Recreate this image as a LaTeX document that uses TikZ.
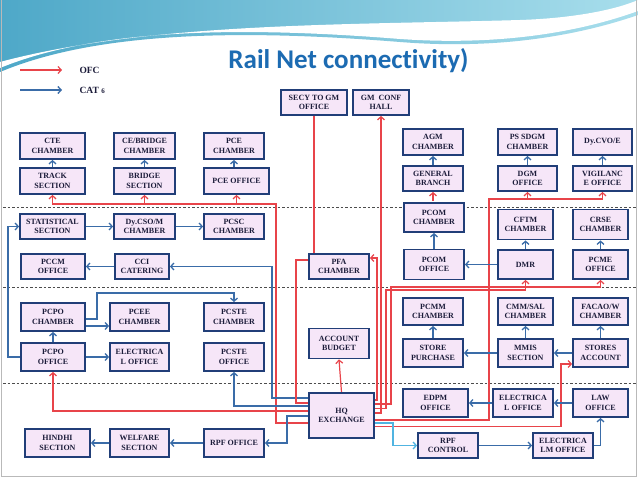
\documentclass[tikz,border=0pt]{standalone}
\usepackage{fontspec}
\setmainfont{Liberation Serif}
\newfontfamily\titlefont[Ligatures=NoCommon]{Carlito}
\usetikzlibrary{arrows.meta,calc}
\definecolor{boxc}{RGB}{33,62,120}
\definecolor{boxf}{RGB}{246,230,248}
\definecolor{txtc}{RGB}{28,28,58}
\definecolor{catc}{RGB}{58,108,168}
\definecolor{ofcc}{RGB}{232,68,74}
\definecolor{cyc}{RGB}{80,180,225}
\definecolor{titc}{RGB}{28,107,178}
\definecolor{tealA}{RGB}{78,168,200}
\definecolor{tealB}{RGB}{168,222,236}
\pgfdeclarelayer{bg}
\pgfsetlayers{bg,main}
\newcommand{\mybox}[6]{\node[box,minimum width=#4pt,minimum height=#5pt] (#1) at (#2,#3) {#6};}
\tikzset{
 box/.style={draw=boxc, fill=boxf, line width=1.8pt, inner sep=1pt, align=center, text=txtc, font=\bfseries\fontsize{8}{9.4}\selectfont},
 tipx/.style={-{Straight Barb[length=3.2pt,width=7pt]}},
 cat/.style={draw=catc, line width=1.3pt, tipx},
 ofc/.style={draw=ofcc, line width=1.2pt, tipx},
 ofcn/.style={draw=ofcc, line width=1.2pt},
 cyanl/.style={draw=cyc, line width=1.3pt, tipx},
 sepline/.style={draw=black!70, line width=0.6pt, dash pattern=on 2.5pt off 2pt},
 legtext/.style={font=\bfseries\fontsize{9.5}{11}\selectfont, text=txtc, anchor=west},
}
\begin{document}
\begin{tikzpicture}[x=1pt,y=-1pt]
\useasboundingbox (0,0) rectangle (638,478);
% ---------- nodes ----------
\node[font=\titlefont\bfseries\fontsize{27}{30}\selectfont, text=titc, anchor=base] (title) at (348.5,69) {Rail Net connectivity)};
\node[legtext] (lofc) at (76,70) {OFC};
\node[legtext] (lcat) at (76,90) {CAT {\fontsize{7}{8}\selectfont 6}};
\coordinate (lo) at (20,70);
\coordinate (lc) at (20,90);

\mybox{secy}{314}{102.5}{66}{25}{SECY TO GM\\OFFICE}
\mybox{gmconf}{381}{102.5}{56}{25}{GM\ \ CONF\\HALL}
\mybox{cte}{52.5}{146}{65}{26}{CTE\\CHAMBER}
\mybox{cebridge}{144.5}{146}{61}{26}{CE/BRIDGE\\CHAMBER}
\mybox{pce}{234}{146}{60}{26}{PCE\\CHAMBER}
\mybox{track}{52.5}{181}{65}{26}{TRACK\\SECTION}
\mybox{bridge}{144.5}{181}{61}{26}{BRIDGE\\SECTION}
\mybox{pceoff}{236.5}{181}{65}{26}{PCE OFFICE}
\mybox{stat}{52.5}{226.5}{65}{25}{STATISTICAL\\SECTION}
\mybox{dycso}{144.5}{226.5}{61}{25}{Dy.CSO/M\\CHAMBER}
\mybox{pcsc}{234}{226.5}{60}{25}{PCSC\\CHAMBER}
\mybox{pccm}{53}{266.5}{64}{25}{PCCM\\OFFICE}
\mybox{cci}{142}{266.5}{54}{25}{CCI\\CATERING}
\mybox{pcpoch}{53}{317}{64}{28}{PCPO\\CHAMBER}
\mybox{pcee}{139.5}{317}{59}{28}{PCEE\\CHAMBER}
\mybox{pcstech}{234}{317}{60}{28}{PCSTE\\CHAMBER}
\mybox{pcpooff}{53}{357}{64}{28}{PCPO\\OFFICE}
\mybox{elecoff}{139.5}{357}{59}{28}{ELECTRICA\\L OFFICE}
\mybox{pcsteoff}{234}{357}{60}{28}{PCSTE\\OFFICE}
\mybox{hindhi}{57.5}{443}{65}{28}{HINDHI\\SECTION}
\mybox{welfare}{139.5}{443}{59}{28}{WELFARE\\SECTION}
\mybox{rpfoff}{234}{443}{60}{28}{RPF OFFICE}
\mybox{pfa}{339}{266.5}{60}{25}{PFA\\CHAMBER}
\mybox{accb}{339}{343.5}{60}{30}{ACCOUNT\\BUDGET}
\mybox{hq}{341.5}{415.5}{65}{45}{HQ\\EXCHANGE}
\mybox{agm}{433}{142}{60}{26}{AGM\\CHAMBER}
\mybox{pssdgm}{527.5}{142}{59}{26}{PS SDGM\\CHAMBER}
\mybox{dycvo}{602.5}{142}{59}{26}{Dy.CVO/E}
\mybox{genbr}{433}{178.5}{60}{25}{GENERAL\\BRANCH}
\mybox{dgm}{527.5}{178.5}{59}{25}{DGM\\OFFICE}
\mybox{vig}{602.5}{178.5}{59}{25}{VIGILANC\\E OFFICE}
\mybox{pcomch}{434}{217.5}{60}{29}{PCOM\\CHAMBER}
\mybox{cftm}{525.5}{224.5}{55}{30}{CFTM\\CHAMBER}
\mybox{crse}{600.5}{224.5}{55}{30}{CRSE\\CHAMBER}
\mybox{pcomoff}{434}{264.5}{60}{30}{PCOM\\OFFICE}
\mybox{dmr}{525.5}{264.5}{55}{29}{DMR}
\mybox{pcme}{600.5}{264.5}{55}{29}{PCME\\OFFICE}
\mybox{pcmm}{433}{311.5}{60}{27}{PCMM\\CHAMBER}
\mybox{cmmsal}{525.5}{311.5}{55}{27}{CMM/SAL\\CHAMBER}
\mybox{facao}{600.5}{311.5}{55}{27}{FACAO/W\\CHAMBER}
\mybox{storep}{433}{353}{60}{28}{STORE\\PURCHASE}
\mybox{mmis}{525.5}{353}{55}{28}{MMIS\\SECTION}
\mybox{storesa}{600.5}{353}{55}{28}{STORES\\ACCOUNT}
\mybox{edpm}{435.5}{403}{65}{28}{EDPM\\OFFICE}
\mybox{elecl}{523}{403}{60}{28}{ELECTRICA\\L OFFICE}
\mybox{law}{600.5}{403}{55}{28}{LAW\\OFFICE}
\mybox{rpfc}{448}{445.5}{60}{25}{RPF\\CONTROL}
\mybox{eleclm}{563}{445.5}{60}{25}{ELECTRICA\\LM OFFICE}

\begin{pgfonlayer}{bg}
% ---------- background ----------
\fill[white] (0,0) rectangle (638,478);
\shade[left color=tealA, right color=tealB] (0,0) -- (638,0) -- (638,15)
  .. controls (580,35) and (500,50) .. (400,42)
  .. controls (250,30) and (100,30) .. (0,72) -- cycle;
\fill[white] (0,62) .. controls (150,22) and (350,25) .. (520,20)
  .. controls (580,18) and (620,8) .. (638,0) -- (638,11)
  .. controls (580,32) and (500,46) .. (400,39)
  .. controls (250,27) and (100,27) .. (0,68) -- cycle;
\draw[gray!55, line width=1pt] (1.5,0) -- (1.5,476.5) -- (636.5,476.5) -- (636.5,0);
% ---------- separators ----------
\draw[sepline] (3,207) -- (636,207);
\draw[sepline] (3,287) -- (636,287);
\draw[sepline] (3,383) -- (636,383);
% ---------- legend ----------
\draw[ofc] (lo) -- ($(lofc.west)+(-14,0)$);
\draw[cat] (lc) -- ($(lcat.west)+(-14,0)$);
% ---------- left group ----------
\draw[cat] (track.north) -- (cte.south);
\draw[cat] (bridge.north) -- (cebridge.south);
\draw[cat] (pce.south |- pceoff.north) -- (pce.south);
\coordinate (rA) at (276,204);
\draw[ofc] ($(hq.west)+(0,7.5)$) -| (rA) -| (track.south);
\draw[ofc] (rA -| bridge.south) -- (bridge.south);
\draw[ofc] (rA -| pceoff.south) -- (pceoff.south);
\draw[cat] (pcpooff.west) -- ++(-12,0) |- (stat.west);
\draw[cat] (stat.east) -- (dycso.west);
\draw[cat] (dycso.east) -- (pcsc.west);
\draw[cat] (cci.west) -- (pccm.east);
\coordinate (bC) at (272,266.5);
\draw[cat] ($(hq.west)+(0,-17.5)$) -| (bC) -- (cci.east);
\draw[cat] ($(pcpoch.east)+(0,2)$) -| (97,293) -| (pcstech.north);
\draw[cat] ($(pcpoch.east)+(0,9)$) -- ($(pcee.west)+(0,9)$);
\draw[cat] (pcpooff.north) -- (pcpoch.south);
\draw[cat] (pcpooff.east) -- (elecoff.west);
\draw[cat] ($(hq.west)+(0,-9.5)$) -| (pcsteoff.south);
\draw[ofc] ($(hq.west)+(0,-4.5)$) -| (pcpooff.south);
\draw[cat] ($(hq.west)+(0,0.5)$) -| (287,443) -- (rpfoff.east);
\draw[cat] (rpfoff.west) -- (welfare.east);
\draw[cat] (welfare.west) -- (hindhi.east);
\draw[ofcn] ($(hq.west)+(0,-12.5)$) -| (296,260) -| (secy.south);
\draw[ofc] (hq.north) -- (accb.south);
% ---------- right group ----------
\draw[ofc] ($(hq.east)+(0,-15.5)$) -| (377,258) -- ($(pfa.east)+(0,-8.5)$);
\draw[ofc] ($(hq.east)+(0,-11.5)$) -| (391,287) -| (pcme.south);
\draw[ofc] ($(hq.east)+(0,-7)$) -| (386,290) -| (dmr.south);
\draw[ofc] ($(hq.east)+(0,-2.5)$) -| (gmconf.south);
\coordinate (rD) at (489,199);
\draw[ofc] ($(hq.east)+(0,4.5)$) -| (rD) -| (vig.south);
\draw[ofc] (rD -| dgm.south) -- (dgm.south);
\draw[ofc] ($(genbr.south)+(0,9)$) -- (genbr.south);
\draw[ofc] ($(hq.east)+(0,11)$) -| (561,364) -- ($(storesa.west)+(0,11)$);
\draw[cyanl] ($(hq.east)+(0,7.5)$) -| (393,445.5) -- (rpfc.west);
\draw[cat] (rpfc.east) -- (eleclm.west);
\draw[cat] (eleclm.east) -| (law.south);
\draw[cat] (law.west) -- (elecl.east);
\draw[cat] (elecl.west) -- (edpm.east);
\draw[cat] (genbr.north) -- (agm.south);
\draw[cat] (dgm.north) -- (pssdgm.south);
\draw[cat] (vig.north) -- (dycvo.south);
\draw[cat] (pcomoff.north) -- (pcomch.south);
\draw[cat] (dmr.north) -- (cftm.south);
\draw[cat] (pcme.north) -- (crse.south);
\draw[cat] (dmr.west) -- (pcomoff.east);
\draw[cat] (storep.north) -- (pcmm.south);
\draw[cat] (mmis.north) -- (cmmsal.south);
\draw[cat] (storesa.north) -- (facao.south);
\draw[cat] (mmis.west) -- (storep.east);
\draw[cat] (storesa.west) -- (mmis.east);
\end{pgfonlayer}
\end{tikzpicture}
\end{document}
